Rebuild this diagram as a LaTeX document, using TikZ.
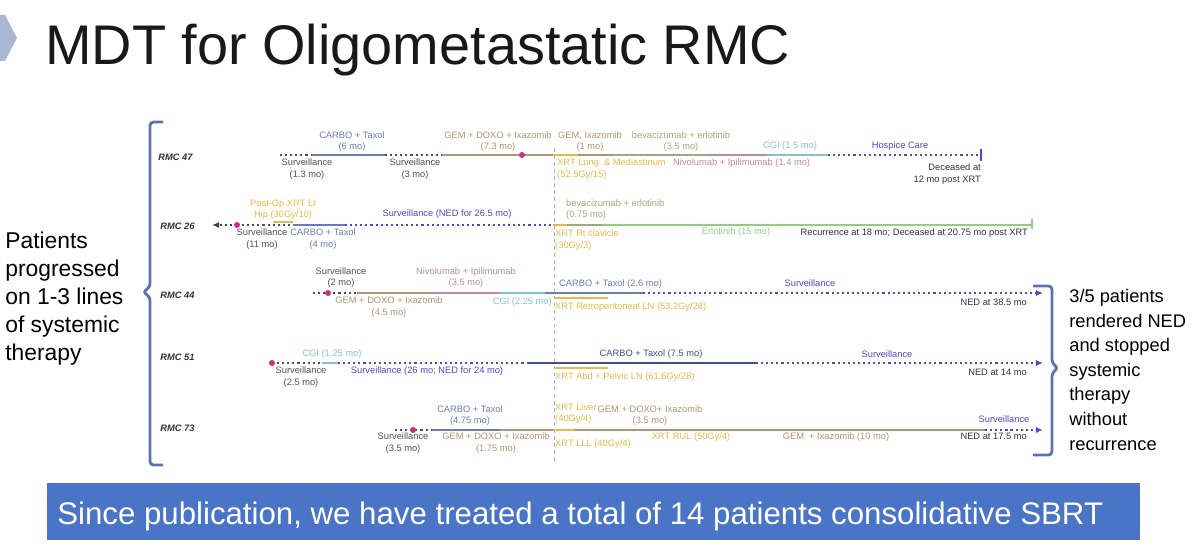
\documentclass[tikz,border=0pt]{standalone}
\usepackage{fontspec}
\setmainfont{Liberation Sans}
\usepackage{graphicx}
\usepackage{tikz}
\usetikzlibrary{arrows.meta}

\definecolor{survgray}{HTML}{505050}
\definecolor{carbo}{HTML}{6A7DB4}
\definecolor{navy}{HTML}{3F4F8F}
\definecolor{gemtan}{HTML}{B39472}
\definecolor{xrtyel}{HTML}{E9B949}
\definecolor{bevgrn}{HTML}{9DAA7E}
\definecolor{nivo}{HTML}{BC8C9E}
\definecolor{cgiteal}{HTML}{7FC7BE}
\definecolor{survblue}{HTML}{4B4BC4}
\definecolor{erlogrn}{HTML}{95CC85}
\definecolor{dotpink}{HTML}{D42A86}
\definecolor{txtdark}{HTML}{333333}
\definecolor{bracecol}{HTML}{5B73B0}
\definecolor{bannerblue}{HTML}{4A74C6}
\definecolor{chevcol}{HTML}{A9B8D2}

\newcommand{\lblfont}{\fontsize{5.3pt}{6.6pt}\selectfont}
\newcommand{\rmcfont}{\fontsize{5.3pt}{6.6pt}\selectfont\bfseries\itshape}

\tikzset{
  seg/.style={line width=1.1pt},
  dots/.style={line width=1.1pt, dash pattern=on 1.2pt off 1.7pt},
  lbl/.style={font=\lblfont, inner sep=0.5pt, align=center},
  rmc/.style={font=\rmcfont, anchor=west, inner sep=0pt, txtdark},
  brace/.style={bracecol, line width=1.6pt, rounded corners=2pt},
  tip/.style={-{Latex[length=4pt,width=3.5pt]}},
}

\begin{document}
\begin{tikzpicture}[x=0.02cm, y=-0.02cm]
\useasboundingbox (0,0) rectangle (1200,554);

% title and corner mark
\fill[chevcol] (0,15) -- (5,15) -- (17,38) -- (5,61) -- (0,61) -- cycle;
\node[anchor=base west, inner sep=0pt, text=black!90] (title) at (45,65)
  {\resizebox{14.9cm}{!}{MDT for Oligometastatic RMC}};

% side texts
\node[anchor=north west, inner sep=0pt, align=left,
  font=\fontsize{13pt}{15.9pt}\selectfont] (left) at (5,232)
  {Patients\\progressed\\on 1-3 lines\\of systemic\\therapy};
\node[anchor=north west, inner sep=0pt, align=left,
  font=\fontsize{10.4pt}{14pt}\selectfont] (right) at (1069,289)
  {3/5 patients\\rendered NED\\and stopped\\systemic\\therapy\\without\\recurrence};

% braces
\draw[brace] (163,122) -- (150,122) -- (150,287) -- (143,292) -- (150,297) -- (150,465) -- (163,465);
\draw[brace] (1033,286) -- (1052,286) -- (1052,363) -- (1058,368) -- (1052,373) -- (1052,455) -- (1033,455);

% XRT line
\coordinate (v0) at (554,148);
\coordinate (v1) at (554,462);
\draw[gray!60, line width=0.5pt, dash pattern=on 2pt off 2pt] (v0) -- (v1);

% RMC 47
\coordinate (a0) at (280,155);
\coordinate (a1) at (312,155);
\coordinate (a2) at (385,155);
\coordinate (a3) at (442,155);
\coordinate (a4) at (553,155);
\coordinate (a5) at (578,155);
\coordinate (a6) at (613,155);
\coordinate (a7) at (710,155);
\coordinate (a8) at (767,155);
\coordinate (a9) at (828,155);
\coordinate (a10) at (981,155);
\coordinate (a10t) at (981,149);
\coordinate (a10b) at (981,161);
\coordinate (pa) at (522,155);

% RMC 26
\coordinate (b0) at (212,225);
\coordinate (b1) at (237,225);
\coordinate (b2) at (293,225);
\coordinate (b3) at (345,225);
\coordinate (b4) at (553,225);
\coordinate (b5) at (567,225);
\coordinate (b6) at (603,225);
\coordinate (b7) at (1032,225);
\coordinate (b7t) at (1032,219);
\coordinate (b7b) at (1032,229);
\coordinate (bx0) at (273,222);
\coordinate (bx1) at (293,222);
\coordinate (pb) at (237,225);

% RMC 44
\coordinate (c0) at (313,293);
\coordinate (c1) at (357,293);
\coordinate (c2) at (430,293);
\coordinate (c3) at (500,293);
\coordinate (c4) at (545,293);
\coordinate (c5) at (643,293);
\coordinate (c6) at (1043,293);
\coordinate (cx0) at (555,298);
\coordinate (cx1) at (608,298);
\coordinate (pc) at (328,293);

% RMC 51
\coordinate (d0) at (272,363);
\coordinate (d1) at (322,363);
\coordinate (d2) at (338,363);
\coordinate (d3) at (528,363);
\coordinate (d4) at (756,363);
\coordinate (d5) at (1043,363);
\coordinate (dx0) at (555,368);
\coordinate (dx1) at (608,368);
\coordinate (pd) at (272,363);

% RMC 73
\coordinate (e0) at (395,430);
\coordinate (e1) at (432,430);
\coordinate (e2) at (500,430);
\coordinate (e3) at (553,430);
\coordinate (e4) at (575,430);
\coordinate (e5) at (985,430);
\coordinate (e6) at (1043,430);
\coordinate (pe) at (413,430);

\draw[dots, survgray] (a0) -- (a1);
\draw[seg, carbo] (a1) -- (a2);
\draw[dots, survgray] (a2) -- (a3);
\draw[seg, gemtan] (a3) -- (a4);
\draw[seg, xrtyel] (a4) -- (a5);
\draw[seg, gemtan] (a5) -- (a6);
\draw[seg, bevgrn] (a6) -- (a7);
\draw[seg, nivo] (a7) -- (a8);
\draw[seg, cgiteal] (a8) -- (a9);
\draw[dots, survblue] (a9) -- (a10);
\draw[seg, survblue] (a10t) -- (a10b);

\draw[dots, survgray!80!black, tip] (b1) -- (b0);
\draw[dots, survgray] (b1) -- (b2);
\draw[seg, xrtyel] (bx0) -- (bx1);
\draw[seg, carbo] (b2) -- (b3);
\draw[dots, survblue] (b3) -- (b4);
\draw[seg, xrtyel] (b4) -- (b5);
\draw[seg, bevgrn] (b5) -- (b6);
\draw[seg, erlogrn] (b6) -- (b7);
\draw[seg, erlogrn] (b7t) -- (b7b);

\draw[dots, survgray] (c0) -- (c1);
\draw[seg, gemtan] (c1) -- (c2);
\draw[seg, nivo] (c2) -- (c3);
\draw[seg, cgiteal] (c3) -- (c4);
\draw[seg, carbo] (c4) -- (c5);
\draw[seg, xrtyel] (cx0) -- (cx1);
\draw[dots, survblue, tip] (c5) -- (c6);

\draw[dots, survgray] (d0) -- (d1);
\draw[seg, cgiteal] (d1) -- (d2);
\draw[dots, survblue] (d2) -- (d3);
\draw[seg, navy, line width=1.6pt] (d3) -- (d4);
\draw[seg, xrtyel] (dx0) -- (dx1);
\draw[dots, survblue, tip] (d4) -- (d5);

\draw[dots, survgray] (e0) -- (e1);
\draw[seg, carbo] (e1) -- (e2);
\draw[seg, gemtan] (e2) -- (e3);
\draw[seg, xrtyel] (e3) -- (e4);
\draw[seg, gemtan] (e4) -- (e5);
\draw[dots, survblue, tip] (e5) -- (e6);

\foreach \p in {pa,pb,pc,pd,pe}
  \fill[dotpink] (\p) circle (1.7pt);

% labels RMC 47
\node[rmc] (r47) at (158,157) {RMC 47};
\node[lbl, survgray, anchor=north] (s47a) at (307,158) {Surveillance\\(1.3 mo)};
\node[lbl, carbo, anchor=south] (c47) at (352,153) {CARBO + Taxol\\(6 mo)};
\node[lbl, survgray, anchor=north] (s47b) at (415,158) {Surveillance\\(3 mo)};
\node[lbl, gemtan, anchor=south] (g47a) at (498,153) {GEM + DOXO + Ixazomib\\(7.3 mo)};
\node[lbl, gemtan, anchor=south] (g47b) at (590,153) {GEM, Ixazomib\\(1 mo)};
\node[lbl, bevgrn, anchor=south] (b47) at (681,153) {bevacizumab + erlotinib\\(3.5 mo)};
\node[lbl, xrtyel, anchor=north west, align=left] (x47) at (556,158) {XRT Lung~ \& Mediastinum\\(52.5Gy/15)};
\node[lbl, nivo, anchor=north west] (n47) at (672,158) {Nivolumab + Ipilimumab (1.4 mo)};
\node[lbl, cgiteal, anchor=south] (cg47) at (790,152) {CGI (1.5 mo)};
\node[lbl, survblue, anchor=south] (h47) at (900,152) {Hospice Care};
\node[lbl, txtdark, anchor=north east, align=right] (d47) at (982,163) {Deceased at\\12 mo post XRT};

% labels RMC 26
\node[rmc] (r26) at (160,226) {RMC 26};
\node[lbl, xrtyel, anchor=south] (px26) at (283,221) {Post-Op XRT Lt\\Hip (30Gy/10)};
\node[lbl, survgray, anchor=north] (s26a) at (262,228) {Surveillance\\(11 mo)};
\node[lbl, carbo, anchor=north] (c26) at (323,228) {CARBO + Taxol\\(4 mo)};
\node[lbl, survblue, anchor=south] (s26b) at (447,220) {Surveillance (NED for 26.5 mo)};
\node[lbl, bevgrn, anchor=south west, align=left] (b26) at (565,221) {bevacizumab + erlotinib\\(0.75 mo)};
\node[lbl, xrtyel, anchor=north west, align=left] (x26) at (554,229) {XRT Rt clavicle\\(30Gy/3)};
\node[lbl, erlogrn, anchor=north] (e26) at (736,227) {Erlotinib (15 mo)};
\node[lbl, txtdark, anchor=north east] (rc26) at (1029,228) {Recurrence at 18 mo; Deceased at 20.75 mo post XRT};

% labels RMC 44
\node[rmc] (r44) at (160,295) {RMC 44};
\node[lbl, survgray, anchor=south] (s44) at (341,289) {Surveillance\\(2 mo)};
\node[lbl, gemtan, anchor=north] (g44) at (389,296) {GEM + DOXO + Ixazomib\\(4.5 mo)};
\node[lbl, nivo, anchor=south] (n44) at (466,289) {Nivolumab + Ipilimumab\\(3.5 mo)};
\node[lbl, cgiteal, anchor=north east] (cg44) at (553,297) {CGI (2.25 mo)};
\node[lbl, carbo, anchor=south west] (c44) at (558,290) {CARBO + Taxol (2.6 mo)};
\node[lbl, xrtyel, anchor=north west] (x44) at (554,302) {XRT Retroperitoneal LN (53.2Gy/28)};
\node[lbl, survblue, anchor=south] (sv44) at (810,288) {Surveillance};
\node[lbl, txtdark, anchor=north east] (ned44) at (1028,298) {NED at 38.5 mo};

% labels RMC 51
\node[rmc] (r51) at (160,357) {RMC 51};
\node[lbl, cgiteal, anchor=south] (cg51) at (332,360) {CGI (1.25 mo)};
\node[lbl, survgray, anchor=north] (s51a) at (301,366) {Surveillance\\(2.5 mo)};
\node[lbl, survblue, anchor=north] (s51b) at (427,366) {Surveillance (26 mo; NED for 24 mo)};
\node[lbl, navy, anchor=south] (c51) at (651,360) {CARBO + Taxol (7.5 mo)};
\node[lbl, xrtyel, anchor=north west] (x51) at (554,372) {XRT Abd + Pelvic LN (61.6Gy/28)};
\node[lbl, survblue, anchor=south] (sv51) at (887,359) {Surveillance};
\node[lbl, txtdark, anchor=north east] (ned51) at (1028,368) {NED at 14 mo};

% labels RMC 73
\node[rmc] (r73) at (160,428) {RMC 73};
\node[lbl, survgray, anchor=north] (s73) at (403,432) {Surveillance\\(3.5 mo)};
\node[lbl, carbo, anchor=south] (c73) at (470,427) {CARBO + Taxol\\(4.75 mo)};
\node[lbl, gemtan, anchor=north] (g73a) at (496,432) {GEM + DOXO + Ixazomib\\(1.75 mo)};
\node[lbl, xrtyel, anchor=south west, align=left] (xl73) at (554,425) {XRT Liver\\(40Gy/4)};
\node[lbl, gemtan, anchor=south] (g73b) at (650,427) {GEM + DOXO+ Ixazomib\\(3.5 mo)};
\node[lbl, xrtyel, anchor=north west] (xll73) at (554,439) {XRT LLL (40Gy/4)};
\node[lbl, xrtyel, anchor=north] (xr73) at (691,432) {XRT RUL (50Gy/4)};
\node[lbl, gemtan, anchor=north] (g73c) at (836,432) {GEM~ + Ixazomib (10 mo)};
\node[lbl, survblue, anchor=south] (sv73) at (1004,424) {Surveillance};
\node[lbl, txtdark, anchor=north east] (ned73) at (1028,432) {NED at 17.5 mo};

% banner
\fill[bannerblue] (47,483) rectangle (1140,540);
\node[anchor=base west, inner sep=0pt, text=white] (banner) at (57,524)
  {\resizebox{20.92cm}{!}{Since publication, we have treated a total of 14 patients consolidative SBRT}};

\end{tikzpicture}
\end{document}
